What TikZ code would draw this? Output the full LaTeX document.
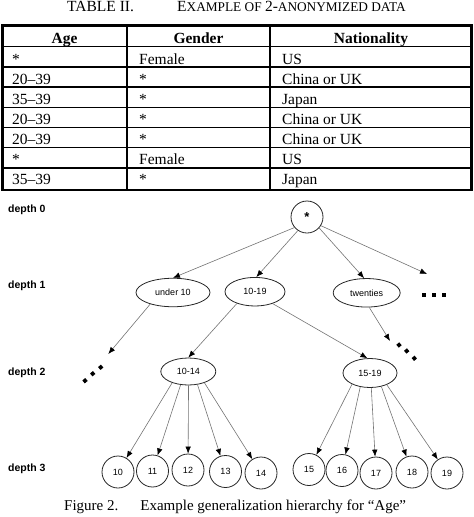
\documentclass[tikz,border=0pt]{standalone}
\usepackage{fontspec}
\setmainfont{Liberation Serif}
\newfontfamily\hv{Liberation Sans}
\usetikzlibrary{arrows.meta,shapes.geometric}
\begin{document}
\begin{tikzpicture}[x=1pt,y=-1pt,
  serif/.style={font=\fontsize{15.5}{17}\selectfont, inner sep=0pt},
  cell/.style={serif, anchor=base west},
  head/.style={serif, anchor=base, font=\fontsize{15.5}{17}\selectfont\bfseries},
  depthlbl/.style={font=\hv\fontsize{10.5}{12}\selectfont\bfseries, anchor=base west, inner sep=0pt},
  ell/.style={draw=black!85, line width=0.8pt, ellipse, inner sep=0pt, font=\hv\fontsize{9}{10}\selectfont},
  circ/.style={draw=black!85, line width=0.8pt, circle, inner sep=0pt, minimum size=32pt, font=\hv\fontsize{9}{10}\selectfont},
  arr/.style={draw=black!55, line width=0.6pt, -{Latex[length=7pt,width=5.5pt,color=black]}},
  sq/.style={fill=black, inner sep=0pt, minimum size=3.8pt, rectangle},
]
\useasboundingbox (0,0) rectangle (474,517);

% ---------- title ----------
\node[cell] (t1) at (67,11.5) {TABLE II.};
\node[cell] (t2) at (177,11.5) {E{\fontsize{13.3}{14}\selectfont XAMPLE OF }2-{\fontsize{13.3}{14}\selectfont ANONYMIZED DATA}};

% ---------- table ----------
\foreach \yy in {46.7,66.9,87.1,107.3,127.5,147.7,167.9}
  \draw[line width=1.3pt] (2.5,\yy) -- (471.5,\yy);
\draw[line width=1.3pt] (127,25.5) -- (127,190);
\draw[line width=1.3pt] (270,25.5) -- (270,190);
\draw[line width=2.6pt] (2.5,25.5) rectangle (471.5,190);

\node[head] (hA) at (64.5,43.3) {Age};
\node[head] (hG) at (198.5,43.3) {Gender};
\node[head] (hN) at (371,43.3) {Nationality};

\node[cell] (a1) at (12,64.3) {*};      \node[cell] (g1) at (139,64.3) {Female}; \node[cell] (n1) at (282,64.3) {US};
\node[cell] (a2) at (12,84.2) {20–39};  \node[cell] (g2) at (139,84.2) {*};      \node[cell] (n2) at (282,84.2) {China or UK};
\node[cell] (a3) at (12,104.1) {35–39}; \node[cell] (g3) at (139,104.1) {*};     \node[cell] (n3) at (282,104.1) {Japan};
\node[cell] (a4) at (12,124.2) {20–39}; \node[cell] (g4) at (139,124.2) {*};     \node[cell] (n4) at (282,124.2) {China or UK};
\node[cell] (a5) at (12,144.3) {20–39}; \node[cell] (g5) at (139,144.3) {*};     \node[cell] (n5) at (282,144.3) {China or UK};
\node[cell] (a6) at (12,164.4) {*};     \node[cell] (g6) at (139,164.4) {Female};\node[cell] (n6) at (282,164.4) {US};
\node[cell] (a7) at (12,184.5) {35–39}; \node[cell] (g7) at (139,184.5) {*};     \node[cell] (n7) at (282,184.5) {Japan};

% ---------- depth labels ----------
\node[depthlbl] (d0) at (8,212) {depth 0};
\node[depthlbl] (d1) at (8,288.5) {depth 1};
\node[depthlbl] (d2) at (8,375) {depth 2};
\node[depthlbl] (d3) at (8,471) {depth 3};

% ---------- tree nodes ----------
\node[circ, font=\hv\fontsize{13}{14}\selectfont\bfseries] (root) at (307,217) {*};

\node[ell, minimum width=74pt, minimum height=28.5pt] (u10) at (173,292.5) {under 10};
\node[ell, minimum width=60pt, minimum height=28.5pt] (t19) at (255,291.7) {10-19};
\node[ell, minimum width=67pt, minimum height=28.5pt] (tw) at (366.7,292.8) {twenties};

\node[ell, minimum width=55pt, minimum height=27pt] (e14) at (188.3,371.5) {10-14};
\node[ell, minimum width=54pt, minimum height=29pt] (e19) at (370,373) {15-19};

\node[circ] (c10) at (118,472) {10};
\node[circ] (c11) at (152.5,471) {11};
\node[circ] (c12) at (188,470) {12};
\node[circ] (c13) at (225.5,471.5) {13};
\node[circ] (c14) at (261,473) {14};
\node[circ] (c15) at (309,469.5) {15};
\node[circ] (c16) at (342,470.5) {16};
\node[circ] (c17) at (376,473) {17};
\node[circ] (c18) at (412,472) {18};
\node[circ] (c19) at (447,473) {19};

% ---------- dangling ends ----------
\coordinate (endR) at (427,274);
\coordinate (endL) at (108.3,354);
\coordinate (endT) at (390,341);

% dots
\node[sq] (h1) at (424,295) {};
\node[sq] (h2) at (434,295) {};
\node[sq] (h3) at (444,295) {};
\node[sq, rotate=40] (l1) at (100.7,367.3) {};
\node[sq, rotate=40] (l2) at (92.7,373.7) {};
\node[sq, rotate=40] (l3) at (85,380.7) {};
\node[sq, rotate=40] (r1) at (399,345) {};
\node[sq, rotate=40] (r2) at (406.7,351) {};
\node[sq, rotate=40] (r3) at (414.3,358.3) {};

% ---------- connectors ----------
\draw[arr] (root.220) -- (u10.north);
\draw[arr] (root.236) -- (t19.85);
\draw[arr] (root.318) -- (tw.100);
\draw[arr] (root.328) -- (endR);

\draw[arr] (u10.207) -- (endL);
\draw[arr] (t19.213) -- (e14.north);
\draw[arr] (t19.326) -- (e19.100);
\draw[arr] (tw.280) -- (endT);

\draw[arr] (e14.215) -- (c10);
\draw[arr] (e14.240) -- (c11);
\draw[arr] (e14.271) -- (c12);
\draw[arr] (e14.305) -- (c13);
\draw[arr] (e14.325) -- (c14);

\draw[arr] (e19.212) -- (c15);
\draw[arr] (e19.235) -- (c16);
\draw[arr] (e19.275) -- (c17);
\draw[arr] (e19.310) -- (c18);
\draw[arr] (e19.325) -- (c19);

% ---------- caption ----------
\node[serif, font=\fontsize{15}{17}\selectfont, anchor=base west] (cap) at (64,510) {Figure 2.\hspace{22pt}Example generalization hierarchy for “Age”};
\end{tikzpicture}
\end{document}
